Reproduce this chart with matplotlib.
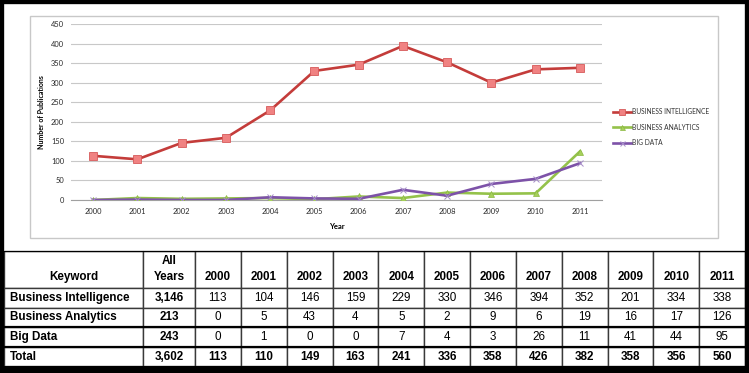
import matplotlib
matplotlib.use("Agg")
import matplotlib.pyplot as plt
from matplotlib.patches import Rectangle

# chart values
years = [2000, 2001, 2002, 2003, 2004, 2005, 2006, 2007, 2008, 2009, 2010, 2011]
bi_line = [113, 104, 146, 159, 229, 330, 346, 394, 352, 300, 334, 338]
ba_line = [0, 5, 3, 4, 5, 2, 9, 5, 19, 16, 17, 124]
bd_line = [0, 1, 0, 0, 7, 4, 3, 26, 11, 41, 54, 94]

# table values
keywords = ["Business Intelligence", "Business Analytics", "Big Data", "Total"]
all_years = [3146, 213, 243, 3602]
bi_tab = [113, 104, 146, 159, 229, 330, 346, 394, 352, 201, 334, 338]
ba_tab = [0, 5, 43, 4, 5, 2, 9, 6, 19, 16, 17, 126]
bd_tab = [0, 1, 0, 0, 7, 4, 3, 26, 11, 41, 44, 95]
tot_tab = [113, 110, 149, 163, 241, 336, 358, 426, 382, 358, 356, 560]

W, H = 749, 373


def box(x0, y0, x1, y1):
    # pixel box (top-left origin) -> figure fraction
    return [x0 / W, 1 - y1 / H, (x1 - x0) / W, (y1 - y0) / H]


fig = plt.figure(figsize=(W / 100, H / 100), dpi=100)
fig.patch.set_facecolor("white")

# light frame round the chart
fig.add_artist(Rectangle((30 / W, 1 - 238 / H), 688 / W, 222 / H,
                         transform=fig.transFigure, fill=False,
                         ec="#c8c8c8", lw=1))

cfont = "Lato"
ax = fig.add_axes(box(71, 24, 602, 200))
x = list(range(len(years)))
ax.plot(x, bi_line, color="#c43c3a", lw=1.9, marker="s", ms=5.5,
        mfc="#f08282", mec="#d65a5a", mew=0.6, label="BUSINESS INTELLIGENCE", zorder=4)
ax.plot(x, ba_line, color="#94c24a", lw=1.9, marker="^", ms=4.5,
        mfc="#a6d05a", mec="#8ab840", mew=0.5, label="BUSINESS ANALYTICS", zorder=3)
ax.plot(x, bd_line, color="#7d52a8", lw=1.9, marker="x", ms=4.5,
        mec="#a58cc8", mew=0.7, label="BIG DATA", zorder=3)

ax.set_xlim(-0.5, 11.5)
ax.set_ylim(0, 450)
ax.set_xticks(x, [str(y) for y in years])
ax.set_yticks(range(0, 451, 50))
ax.grid(axis="y", color="#c8c8c8", lw=0.8)
ax.set_axisbelow(True)
for s in ["left", "top", "right"]:
    ax.spines[s].set_visible(False)
ax.spines["bottom"].set_color("#a0a0a0")
ax.tick_params(axis="y", length=0, pad=5, labelsize=5.4, labelcolor="#2a2a2a")
ax.tick_params(axis="x", length=0, pad=5.5, labelsize=5.4, labelcolor="#2a2a2a")
for lab in ax.get_xticklabels() + ax.get_yticklabels():
    lab.set_family(cfont)
ax.set_ylabel("Number of Publications", fontsize=5, fontweight="bold", family=cfont)
ax.yaxis.set_label_coords((45 - 71) / 531, 0.5)
ax.set_xlabel("Year", fontsize=5.5, fontweight="bold", family=cfont)
ax.xaxis.set_label_coords(0.5, (200 - 223) / 176)

leg = ax.legend(loc="center left", bbox_to_anchor=(613 / W, 1 - 127 / H),
                bbox_transform=fig.transFigure, frameon=False,
                prop={"family": cfont, "size": 4.8}, handlelength=2.7,
                handletextpad=0.2, labelspacing=1.25, borderpad=0, borderaxespad=0,
                numpoints=1, markerscale=0.8)
for t in leg.get_texts():
    t.set_color("#333333")

# table
tab_ax = fig.add_axes(box(4, 251, 745, 366))
tab_ax.axis("off")
header = ["\nKeyword", "All\nYears"] + ["\n" + str(y) for y in years]
rows = [header]
for k, a, vals in zip(keywords, all_years, [bi_tab, ba_tab, bd_tab, tot_tab]):
    rows.append([k, f"{a:,}"] + [str(v) for v in vals])

col_w = [139, 52] + [550 / 12] * 12
row_h = [37, 20, 20, 20, 19]
tbl = tab_ax.table(cellText=rows, colWidths=[c / sum(col_w) for c in col_w],
                   cellLoc="center", bbox=[0, 0, 1, 1])
tbl.auto_set_font_size(False)
for (r, c), cell in tbl.get_celld().items():
    cell.set_height(row_h[r] / sum(row_h))
    cell.set_edgecolor("#3a3a3a")
    cell.set_linewidth(1.0)
    t = cell.get_text()
    t.set_fontsize(8.4)
    t.set_family("Liberation Sans")
    if r == 0 or c in (0, 1) or r == 4:
        t.set_fontweight("bold")
    if r == 0:
        t.set_linespacing(1.45)
    if c == 0 and r > 0:
        t.set_horizontalalignment("left")
        cell.PAD = 0.045

# heavier rule lines in the table
acc = 0
for h in row_h[::-1][:2]:
    acc += h
    tab_ax.axhline(acc / sum(row_h), color="black", lw=1.6, zorder=5)
tab_ax.axhline(1, color="black", lw=1.6, zorder=5)
tab_ax.set_ylim(0, 1)

# outer black frame
fig.add_artist(Rectangle((0, 0), 1, 1, transform=fig.transFigure, fill=False,
                         ec="black", lw=6))
fig.add_artist(Rectangle((0, 0), 1, 7 / H, transform=fig.transFigure,
                         fc="black", ec="none"))

fig.savefig("out.png", dpi=100)
